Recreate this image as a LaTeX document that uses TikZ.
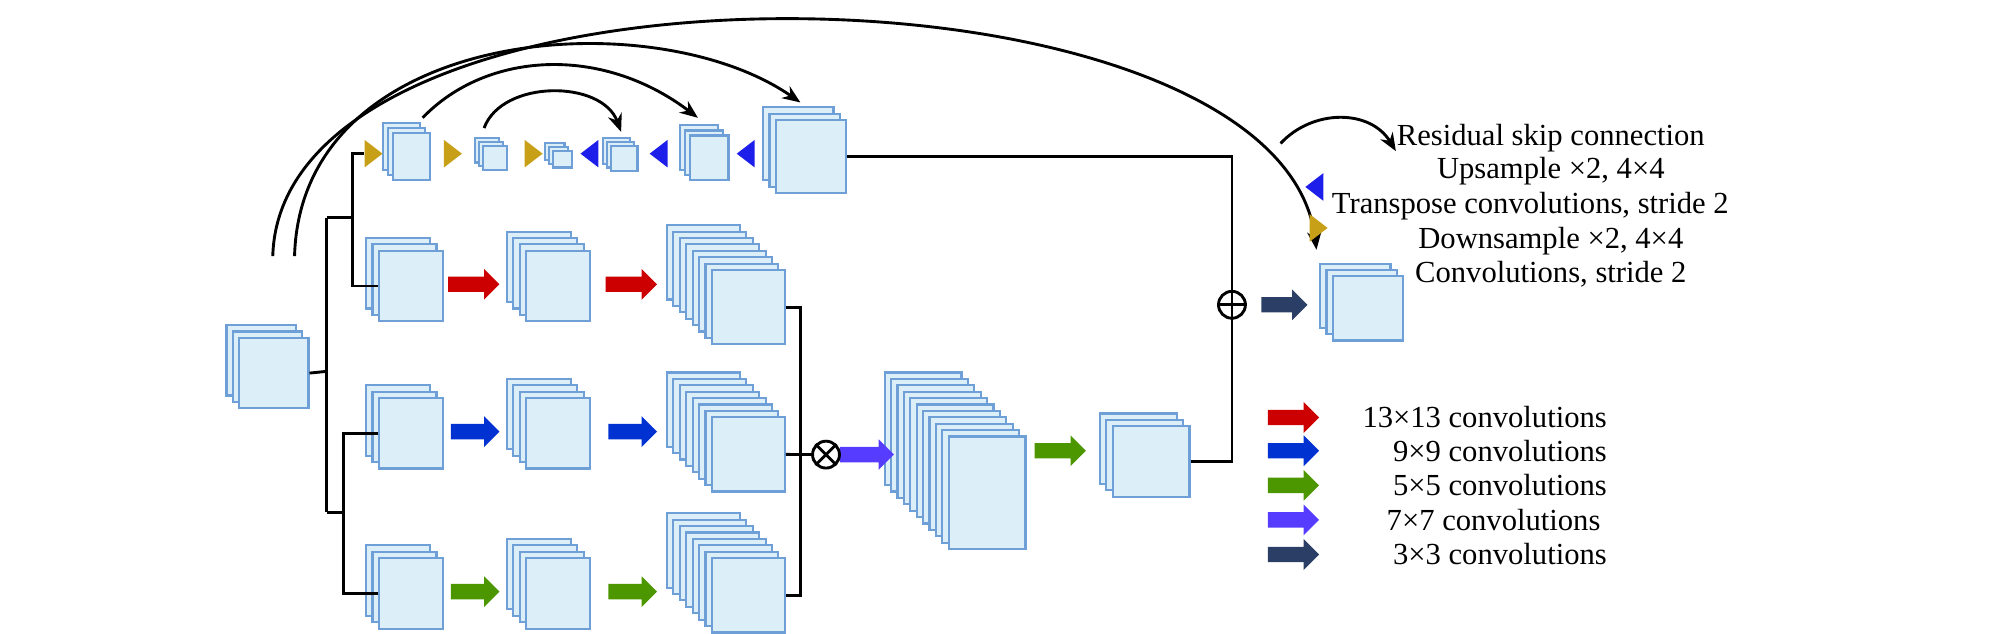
\documentclass[tikz,border=0pt]{standalone}
\usepackage{fontspec}
\setmainfont{Liberation Serif}
\usetikzlibrary{arrows.meta,shapes.geometric}
\definecolor{sheetfill}{RGB}{220,238,248}
\definecolor{sheetdraw}{RGB}{110,160,215}
\definecolor{cred}{RGB}{204,0,0}
\definecolor{cblue}{RGB}{0,50,210}
\definecolor{cgreen}{RGB}{76,150,0}
\definecolor{cpurple}{RGB}{85,60,255}
\definecolor{cnavy}{RGB}{43,63,102}
\definecolor{cgold}{RGB}{200,160,24}
\definecolor{ctri}{RGB}{30,30,235}
\tikzset{
  sheet/.style={draw=sheetdraw,fill=sheetfill,line width=1.2pt,inner sep=0pt,anchor=north west},
  conn/.style={line width=1.6pt,black},
  skip/.style={line width=1.6pt,black,-{Stealth[length=10pt,width=8pt]}},
  lbl/.style={font=\fontsize{17}{20}\selectfont,inner sep=0pt},
  tri/.style={isosceles triangle,isosceles triangle apex angle=75,inner sep=0pt,minimum height=14*0.025cm,minimum width=19*0.025cm},
  op/.style={circle,draw,line width=1.6pt,minimum size=21*0.025cm,inner sep=0pt,fill=white},
}
% name, x, y, w, h, n, d
\newcommand\stk[7]{\foreach \i in {1,...,#6}{\node[sheet,minimum width=#4*0.025cm,minimum height=#5*0.025cm] (#1-\i) at ({#2+(\i-1)*#7},{#3+(\i-1)*#7}) {};}}
% x, y, len, colour
\newcommand\barr[4]{\fill[#4] (#1,#2-6)--(#1+#3-12,#2-6)--(#1+#3-12,#2-12)--(#1+#3,#2)--(#1+#3-12,#2+12)--(#1+#3-12,#2+6)--(#1,#2+6)--cycle;}
\begin{document}
\begin{tikzpicture}[x=0.025cm,y=-0.025cm]
\useasboundingbox (0,0) rectangle (1568,494.3);
% stacks
\stk{in}{176}{253}{54}{55}{3}{5}
\stk{r1a}{285}{185}{50}{55}{3}{5}
\stk{r1b}{395}{180}{50}{55}{4}{5}
\stk{r1c}{520}{175}{57}{58}{8}{5}
\stk{r2a}{285}{300}{50}{55}{3}{5}
\stk{r2b}{395}{295}{50}{55}{4}{5}
\stk{r2c}{520}{290}{57}{58}{8}{5}
\stk{r3a}{285}{425}{50}{55}{3}{5}
\stk{r3b}{395}{420}{50}{55}{4}{5}
\stk{r3c}{520}{400}{57}{58}{8}{5}
\stk{big}{690}{290}{60}{88}{11}{5}
\stk{s7}{858}{322}{60}{55}{3}{5}
\stk{out}{1030}{205}{55}{50}{3}{5}
% top row
\stk{s1}{298}{95}{29}{37}{3}{4}
\stk{s2}{370}{107}{19}{19}{3}{3}
\stk{s3}{425}{111}{15}{13}{3}{3}
\stk{s4}{470}{107}{21}{20}{3}{3}
\stk{s5}{530}{97}{30}{35}{3}{4}
\stk{s6}{595}{83}{55}{57}{3}{5}
\node[tri,fill=cgold] (d1) at (290,120) {};
\node[tri,fill=cgold] (d2) at (352,120) {};
\node[tri,fill=cgold] (d3) at (415,120) {};
\node[tri,fill=ctri,shape border rotate=180] (u1) at (462,120) {};
\node[tri,fill=ctri,shape border rotate=180] (u2) at (516,120) {};
\node[tri,fill=ctri,shape border rotate=180] (u3) at (584,120) {};
% block arrows
\barr{350}{222}{40}{cred}\barr{473}{222}{40}{cred}
\barr{352}{337}{38}{cblue}\barr{475}{337}{38}{cblue}
\barr{352}{462}{38}{cgreen}\barr{475}{462}{38}{cgreen}
\barr{656}{355}{42}{cpurple}
\barr{808}{352}{40}{cgreen}
\barr{985}{238}{36}{cnavy}
% tree
\coordinate (ta) at (255,170); \coordinate (tb) at (255,400);
\coordinate (t1) at (255,290);
\coordinate (tc) at (275,170); \coordinate (td) at (268,400);
\draw[conn] (in-3.east) -- (t1);
\draw[conn] (ta) -- (tb);
\draw[conn] (ta) -- (tc);
\draw[conn] (tc) |- (d1.west);
\draw[conn] (tc) |- (r1a-3.west);
\draw[conn] (tb) -- (td);
\draw[conn] (td) |- (r2a-3.west);
\draw[conn] (td) |- (r3a-3.west);
% merge
\node[op] (mul) at (645,355) {};
\draw[line width=1.6pt] (mul.north west) -- (mul.south east) (mul.north east) -- (mul.south west);
\coordinate (j3) at (625,355);
\draw[conn] (r1c-8.east) -| (j3) |- (r3c-8.east);
\draw[conn] (r2c-8.east) -- (mul);
\node[op] (add) at (962,238) {};
\draw[line width=1.6pt] (add.north) -- (add.south) (add.west) -- (add.east);
\draw[conn] (s6-3.east) -| (add);
\draw[conn] (s7-3.east) -| (add);
% skip arcs
\draw[skip] (378,100) .. controls (392,62) and (470,62) .. (485,103);
\draw[skip] (330,92) .. controls (380,40) and (470,35) .. (545,92);
\draw[skip] (230,200) .. controls (235,20) and (510,0) .. (625,80);
\draw[skip] (213,200) .. controls (220,-50) and (1000,-40) .. (1028,195);
% legend top
\draw[skip] (1000,112) .. controls (1025,85) and (1070,85) .. (1090,118);
\node[tri,fill=ctri,shape border rotate=180] (lu) at (1028,146) {};
\node[tri,fill=cgold] (ld) at (1028,178) {};
\node[lbl] (t1l) at (1211,108) {Residual skip connection};
\node[lbl] (t2l) at (1211,134) {Upsample ×2, 4×4};
\node[lbl] (t3l) at (1195,161) {Transpose convolutions, stride 2};
\node[lbl] (t4l) at (1211,188) {Downsample ×2, 4×4};
\node[lbl] (t5l) at (1211,214) {Convolutions, stride 2};
% legend bottom
\barr{990}{326}{40}{cred}
\barr{990}{352}{40}{cblue}
\barr{990}{379}{40}{cgreen}
\barr{990}{406}{40}{cpurple}
\barr{990}{433}{40}{cnavy}
\node[lbl,anchor=east] (l1) at (1255,326) {13×13 convolutions};
\node[lbl,anchor=east] (l2) at (1255,352) {9×9 convolutions};
\node[lbl,anchor=east] (l3) at (1255,379) {5×5 convolutions};
\node[lbl,anchor=east] (l4) at (1250,406) {7×7 convolutions};
\node[lbl,anchor=east] (l5) at (1255,433) {3×3 convolutions};
\end{tikzpicture}
\end{document}
